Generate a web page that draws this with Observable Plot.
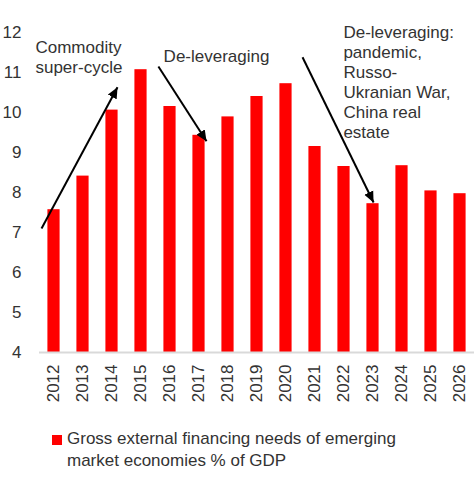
<!DOCTYPE html>
<html><head><meta charset="utf-8">
<script src="https://cdn.jsdelivr.net/npm/d3@7"></script>
<script src="https://cdn.jsdelivr.net/npm/@observablehq/plot@0.6"></script>
<style>
body{margin:0;background:#fff;font-family:"Liberation Sans",Arial,sans-serif;color:#333}
#chart svg{display:block}
#legend{display:flex;align-items:flex-start;margin:16px 0 0 52px;font-size:17px;line-height:22px;width:360px}
#legend .sw{width:10px;height:10px;background:#ff0000;flex:none;margin-top:7px;margin-right:5px}
</style></head><body>
<div id="chart"></div>
<div id="legend"><span class="sw"></span><span id="legtext"></span></div>
<script>
const years = [2012,2013,2014,2015,2016,2017,2018,2019,2020,2021,2022,2023,2024,2025,2026];
const values = [7.57,8.41,10.06,11.07,10.15,9.43,9.89,10.40,10.72,9.15,8.65,7.72,8.67,8.04,7.97];
const yTicks = [4,5,6,7,8,9,10,11,12];
const seriesLabel = "Gross external financing needs of emerging market economies % of GDP";

const noteTexts = ["Commodity\nsuper-cycle", "De-leveraging", "De-leveraging:\npandemic,\nRusso-\nUkranian War,\nChina real\nestate"];
const noteX = [2011.36, 2015.78, 2021.98];
const noteY = [11.85, 11.625, 12.225];

const arrowX1 = [2011.57, 2015.60, 2020.57];
const arrowY1 = [7.10, 11.15, 11.38];
const arrowX2 = [2014.19, 2017.26, 2023.02];
const arrowY2 = [10.63, 9.28, 7.75];

const data = years.map((y, i) => ({year: y, value: values[i]}));
const notes = noteTexts.map((t, i) => ({text: t, x: noteX[i], y: noteY[i]}));
const arrows = arrowX1.map((x, i) => ({x1: x, y1: arrowY1[i], x2: arrowX2[i], y2: arrowY2[i]}));

function filledArrow(color, context) {
  const m = d3.create("svg:marker")
    .attr("viewBox", "-10 -5 10 10")
    .attr("markerWidth", 5.5)
    .attr("markerHeight", 5.5)
    .attr("orient", "auto")
    .attr("fill", color)
    .attr("stroke", "none");
  m.append("path").attr("d", "M-10,-4.5L0,0L-10,4.5Z");
  return m.node();
}

let arrowMark;
try {
  arrowMark = Plot.link(arrows, {x1: "x1", y1: "y1", x2: "x2", y2: "y2", stroke: "#000", strokeWidth: 2, markerEnd: filledArrow});
} catch (e) {
  arrowMark = Plot.arrow(arrows, {x1: "x1", y1: "y1", x2: "x2", y2: "y2", stroke: "#000", strokeWidth: 2, headLength: 10});
}

const halfBar = 0.21;

const chart = Plot.plot({
  width: 475,
  height: 412,
  marginTop: 32,
  marginBottom: 60,
  marginLeft: 39,
  marginRight: 1,
  style: {fontSize: "17px", fontFamily: "'Liberation Sans', Arial, sans-serif", color: "#333", background: "#fff"},
  x: {domain: [2011.5, 2026.5]},
  y: {domain: [4, 12]},
  marks: [
    Plot.rectY(data, {x1: d => d.year - halfBar, x2: d => d.year + halfBar, y1: () => 4, y2: "value", fill: "#ff0000"}),
    Plot.ruleY([4], {stroke: "#d9d9d9", strokeWidth: 2}),
    Plot.axisY({ticks: yTicks, tickSize: 0, tickPadding: 18, tickFormat: d => String(d), label: null}),
    Plot.axisX({ticks: years, tickSize: 0, tickPadding: 12, tickRotate: -90, tickFormat: d => String(d), label: null}),
    arrowMark,
    Plot.text(notes, {x: "x", y: "y", text: "text", textAnchor: "start", lineAnchor: "top", lineHeight: 20/17, fontSize: 17, fill: "#333"})
  ]
});
document.getElementById("chart").appendChild(chart);
document.getElementById("legtext").textContent = seriesLabel;
</script>
</body></html>
